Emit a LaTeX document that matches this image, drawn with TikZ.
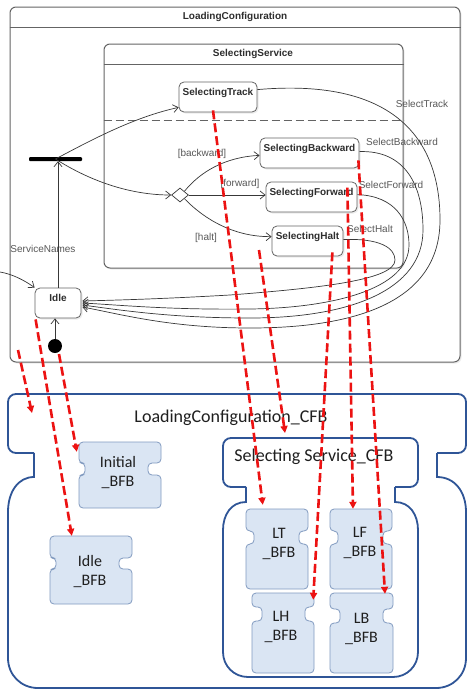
\documentclass[tikz,border=0pt]{standalone}
\usepackage{fontspec}
\setmainfont{Liberation Sans}
\newfontfamily\calfont{Carlito}
\usetikzlibrary{shapes.geometric,arrows.meta,calc,shadows}
\definecolor{umlgray}{RGB}{100,100,100}
\definecolor{labgray}{RGB}{88,88,88}
\definecolor{cfbblue}{RGB}{47,85,151}
\definecolor{bfbfill}{RGB}{218,229,243}
\definecolor{bfbline}{RGB}{130,155,192}
\definecolor{redarr}{RGB}{236,18,18}
% #1 name, #2 L, #3 T, #4 R, #5 B, #6 neck top, #7 neck bottom, #8 left depth, #9 right depth
\newcommand\bfbshape[9]{%
  \path ({(#2+#4)/2},{(#3+#5)/2}) node[minimum width={#4-#2}, minimum height={#5-#3}, inner sep=0pt] (#1) {};
  \draw[bfb] ({(#2+#4)/2},#3) -- (#4,#3) -- (#4,#6) -- ({#4-#9},#6) -- ({#4-#9},#7) -- (#4,#7) -- (#4,#5)
    -- (#2,#5) -- (#2,#7) -- ({#2+#8},#7) -- ({#2+#8},#6) -- (#2,#6) -- (#2,#3) -- cycle;
}
\begin{document}
\begin{tikzpicture}[x=1pt,y=-1pt,
  umlstate/.style={draw=umlgray, line width=0.8pt, rounded corners=5, fill=white,
    font=\fontsize{10}{12}\selectfont\bfseries, text=black!82, inner xsep=0pt, inner ysep=0pt,
    text height=13.5pt, text depth=16.5pt,
    drop shadow={opacity=0.15, shadow xshift=1.5pt, shadow yshift=-1.5pt}},
  glab/.style={font=\fontsize{10}{12}\selectfont, text=labgray, inner sep=0pt},
  ttl/.style={font=\fontsize{10}{12}\selectfont\bfseries, text=black!82, inner sep=0pt},
  uml/.style={draw=black!78, line width=0.7pt, -{Straight Barb[length=5pt,width=8pt]}},
  umlframe/.style={draw=umlgray, line width=1pt, rounded corners=6, fill=white,
    drop shadow={opacity=0.15, shadow xshift=1.5pt, shadow yshift=-1.5pt}},
  sepline/.style={draw=umlgray, line width=1pt},
  cfb/.style={draw=cfbblue, line width=1.8pt},
  bfb/.style={draw=bfbline, fill=bfbfill, line width=0.8pt, rounded corners=4},
  bfbtxt/.style={font=\calfont\fontsize{16}{19}\selectfont, align=center, text=black!88, inner sep=0pt},
  cfbtxt/.style={font=\calfont\fontsize{18}{22}\selectfont, text=black!88, inner sep=0pt},
  redarrow/.style={draw=redarr, line width=2.6pt, dash pattern=on 9pt off 4pt, -{Triangle[length=7pt,width=7pt]}},
]
\useasboundingbox (0,0) rectangle (474,694);
\fill[white] (0,0) rectangle (474,694);

% ---------------- UML state machine ----------------
\node[umlframe, minimum width=450, minimum height=355, inner sep=0pt] (lc) at (235,184.5) {};
\draw[sepline] (lc.west |- 0,27) -- (lc.east |- 0,27);
\node[ttl] (lct) at (235,17) {LoadingConfiguration};

\node[umlframe, minimum width=299, minimum height=224, inner sep=0pt] (ss) at (253.5,156) {};
\draw[sepline] (ss.west |- 0,64) -- (ss.east |- 0,64);
\node[ttl] (sst) at (253,54) {SelectingService};
\draw[sepline, dash pattern=on 8pt off 4pt] (ss.west |- 0,120) -- (ss.east |- 0,120);

\node[umlstate, minimum width=78] (track) at (218,97) {SelectingTrack};
\node[umlstate, minimum width=99] (bwd) at (309.5,153) {SelectingBackward};
\node[umlstate, minimum width=91] (fwd) at (311.5,197) {SelectingForward};
\node[umlstate, minimum width=71] (halt) at (307.5,241) {SelectingHalt};
\node[umlstate, minimum width=46] (idle) at (58,303) {Idle};

\node[fill=black, minimum width=53, minimum height=4, inner sep=0pt, rounded corners=1] (bar) at (55.5,159) {};
\node[circle, fill=black, minimum size=14, inner sep=0pt] (dot) at (55,346) {};
\node[diamond, draw=black!78, fill=white, line width=0.7pt, minimum width=17, minimum height=14, inner sep=0pt] (dia) at (180,195) {};

\node[glab] (lst) at (422,104) {SelectTrack};
\node[glab] (lsb) at (402,142) {SelectBackward};
\node[glab] (lsf) at (391,185) {SelectForward};
\node[glab] (lsh) at (370,229) {SelectHalt};
\node[glab] (lbk) at (202,154) {[backward]};
\node[glab] (lfw) at (240,184) {[forward]};
\node[glab] (lht) at (206,238) {[halt]};
\node[glab] (lsn) at (43,249) {ServiceNames};

\coordinate (inc) at (0,272);
\draw[uml] (inc) .. controls (12,274) and (24,280) .. (idle.north west);
\draw[uml] (dot.north) -- (dot.north |- idle.south);
\draw[uml] (idle.north) -- (idle.north |- bar.south);
\draw[uml] (bar.center) .. controls (95,138) and (135,117) .. ($(track.south west)+(0,-5)$);
\draw[uml] (bar.center) .. controls (90,181) and (130,195) .. (dia.west);
\draw[uml] (dia.north east) .. controls (200,172) and (225,157) .. ($(bwd.south west)+(0,-13)$);
\draw[uml] (dia.east) -- (dia.east -| fwd.west);
\draw[uml] (dia.south east) .. controls (205,220) and (235,237) .. ($(halt.north west)+(0,11)$);

\draw[uml] ($(track.north east)+(0,8)$) .. controls (390,78) and (440,135) .. (440,220)
   .. controls (440,300) and (360,328) .. (250,328) .. controls (170,328) and (120,314) .. ($(idle.east)+(1,4)$);
\draw[uml] ($(bwd.north east)+(0,14)$) .. controls (405,150) and (423,185) .. (423,230)
   .. controls (423,290) and (350,318) .. (250,318) .. controls (170,318) and (120,310) .. ($(idle.east)+(1,2)$);
\draw[uml] ($(fwd.north east)+(0,13)$) .. controls (395,196) and (409,220) .. (409,245)
   .. controls (409,290) and (330,308) .. (250,309) .. controls (170,310) and (120,305) .. ($(idle.east)+(1,0)$);
\draw[uml] ($(halt.north east)+(0,14)$) .. controls (380,238) and (395,248) .. (395,260)
   .. controls (395,280) and (320,288) .. (230,295) .. controls (160,299) and (120,300) .. ($(idle.east)+(1,-2)$);

% ---------------- CFB / BFB structure ----------------
\draw[cfb, rounded corners=8] (34,453) -- (8,453) -- (8,394) -- (466,394) -- (466,453) -- (437,453);
\draw[cfb] (437,453) -- (437,477) .. controls (455,477) and (466,492) .. (466,512) -- (466,658)
  .. controls (466,675) and (453,688) .. (436,688) -- (38,688) .. controls (21,688) and (8,675) .. (8,658)
  -- (8,512) .. controls (8,492) and (18,477) .. (34,477) -- (34,453);
\node[cfbtxt] (lccfb) at (231,418) {LoadingConfiguration\_CFB};

\draw[cfb, rounded corners=8] (246,487) -- (223,487) -- (223,438) -- (418,438) -- (418,487) -- (395,487);
\draw[cfb] (395,487) -- (395,502) .. controls (410,502) and (418,515) .. (418,530) -- (418,652)
  .. controls (418,666) and (407,677) .. (393,677) -- (248,677) .. controls (234,677) and (223,666) .. (223,652)
  -- (223,530) .. controls (223,515) and (231,502) .. (246,502) -- (246,487);
\node[cfbtxt] (sscfb) at (314,457) {Selecting Service\_CFB};

\bfbshape{initb}{79}{442}{161}{508}{463}{475}{6}{13}
\bfbshape{idleb}{50}{536}{132}{604}{558}{569}{6}{13}
\bfbshape{ltb}{246}{509}{308}{589}{531}{544}{8}{9}
\bfbshape{lfb}{330}{509}{392}{589}{531}{544}{8}{9}
\bfbshape{lhb}{252}{593}{314}{673}{607}{621}{10}{9}
\bfbshape{lbb}{330}{593}{393}{673}{609}{623}{10}{10}

\node[bfbtxt] (tinit) at (118,473) {Initial\\\_BFB};
\node[bfbtxt] (tidle) at (90,572) {Idle\\\_BFB};
\node[bfbtxt] (tlt) at (279,544) {LT\\\_BFB};
\node[bfbtxt] (tlf) at (360,543) {LF\\\_BFB};
\node[bfbtxt] (tlh) at (281,627) {LH\\\_BFB};
\node[bfbtxt] (tlb) at (361.5,629) {LB\\\_BFB};

% ---------------- red mapping arrows ----------------
\coordinate (r2s) at (259,250);
\coordinate (r2e) at (285,433);
\coordinate (r8s) at (18,350);
\coordinate (r8e) at (32,413);
\draw[redarrow] ($(track.south)+(-5,-2)$) -- ($(ltb.north west)+(17,-4)$);
\draw[redarrow] (r2s) -- (r2e);
\draw[redarrow] ($(halt.south east)+(-11,-4)$) -- ($(lhb.north east)+(-1,7)$);
\draw[redarrow] ($(fwd.north east)+(-10,6)$) -- ($(lfb.north)+(-8,0)$);
\draw[redarrow] ($(bwd.south east)+(-1,-8)$) -- ($(lbb.north)+(23.5,1)$);
\draw[redarrow] ($(idle.south west)+(1,1)$) -- ($(idleb.north west)+(22,0)$);
\draw[redarrow] ($(dot.center)+(4,8)$) -- ($(initb.north west)+(-2,10)$);
\draw[redarrow] (r8s) -- (r8e);
\end{tikzpicture}
\end{document}
